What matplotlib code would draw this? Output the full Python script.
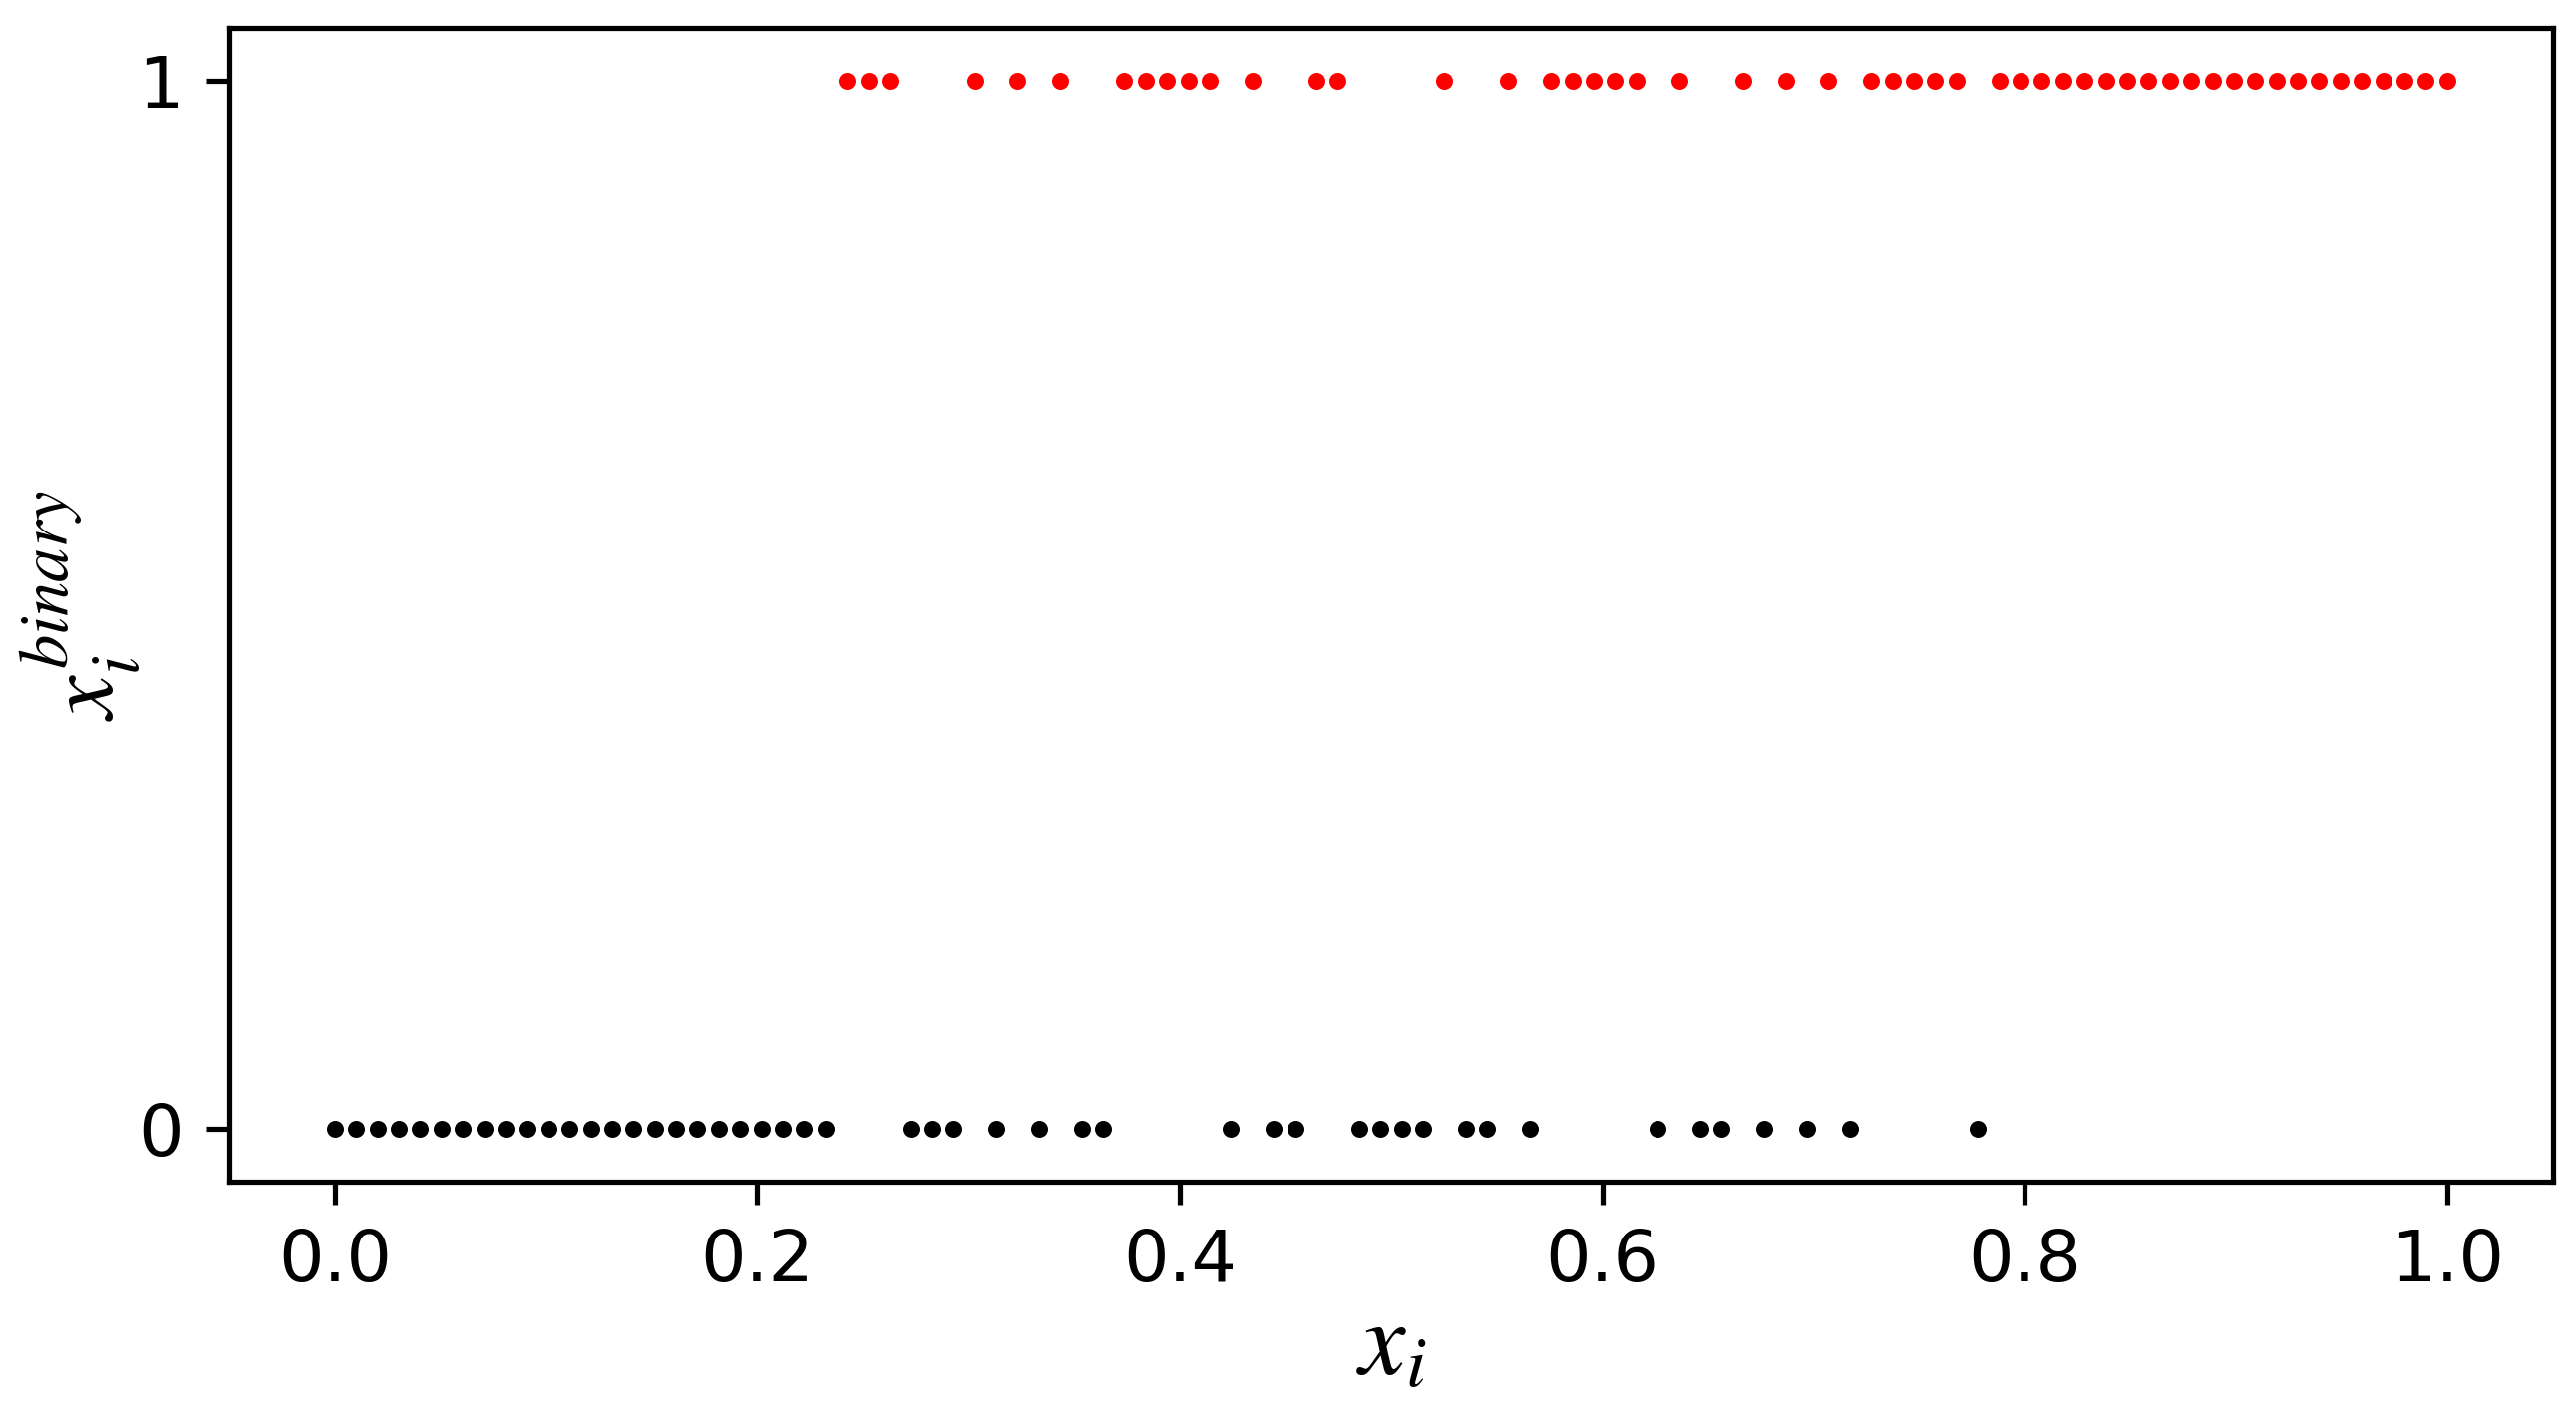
import numpy as np
import matplotlib
matplotlib.use("Agg")
import matplotlib.pyplot as plt

# 100 evenly spaced inputs on [0, 1]
x = np.linspace(0, 1, 100)

# indices of the points that were mapped to 0 (the rest are 1)
zero_idx = list(range(0, 24)) + [27, 28, 29, 31, 33, 35, 36, 42, 44, 45,
                                 48, 49, 50, 51, 53, 54, 56, 62, 64, 65,
                                 67, 69, 71, 77]
one_idx = [i for i in range(len(x)) if i not in zero_idx]

x_zero = x[zero_idx]
x_one = x[one_idx]

plt.rcParams['mathtext.fontset'] = 'stix'

dpi = 470
fig = plt.figure(figsize=(2583 / dpi, 1419 / dpi), dpi=dpi)
ax = fig.add_axes([0.089, 0.165, 0.902, 0.815])

ax.plot(x_zero, np.zeros(len(x_zero)), '.', color='black', markersize=3.2)
ax.plot(x_one, np.ones(len(x_one)), '.', color='red', markersize=3.2)

ax.set_yticks([0, 1])
ax.tick_params(labelsize=11)
ax.set_xlabel(r'$x_i$', fontsize=16, labelpad=0)
ax.set_ylabel(r'$x_i^{binary}$', fontsize=15, labelpad=-1)

fig.savefig("out.png", dpi=dpi)
